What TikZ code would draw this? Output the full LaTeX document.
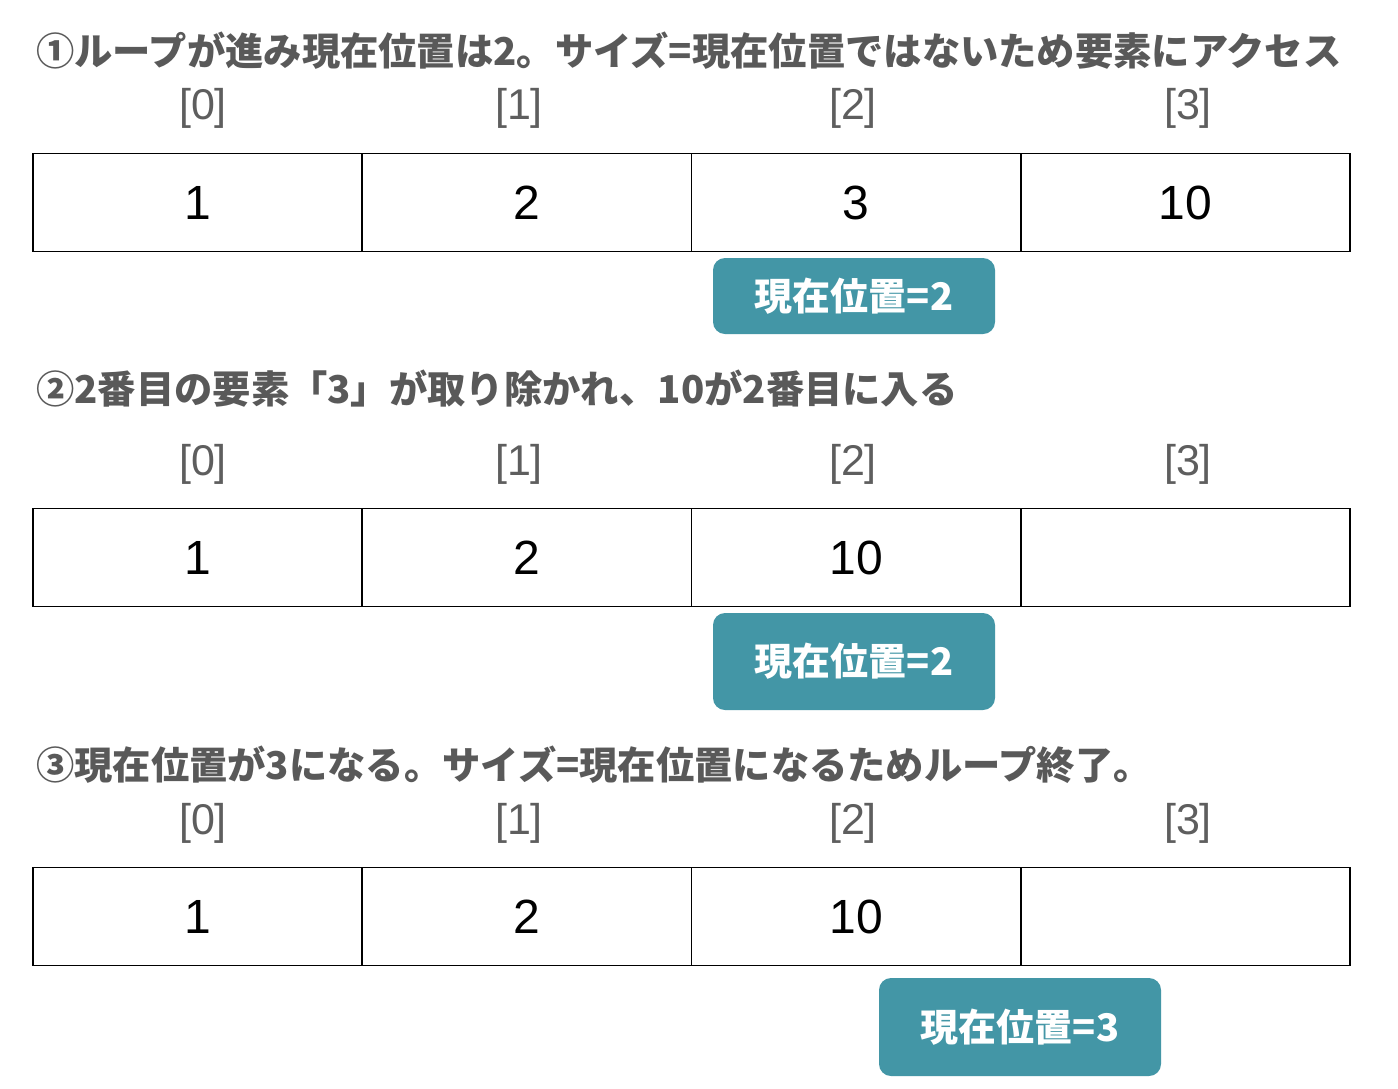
\documentclass[tikz,border=0pt]{standalone}
\usepackage{fontspec}
\setmainfont{Liberation Sans}
\newfontfamily\jpfont{Noto Sans CJK JP}
\definecolor{titlegray}{HTML}{595959}
\definecolor{idxgray}{HTML}{5E5E5E}
\definecolor{badgeteal}{HTML}{4396A6}
\begin{document}
\begin{tikzpicture}[x=1pt,y=-1pt,
  title/.style={anchor=west,inner sep=0,text=titlegray,font=\jpfont\bfseries\fontsize{38.3}{38.3}\selectfont},
  idx/.style={inner sep=0,text=idxgray,font=\fontsize{43}{43}\selectfont},
  cell/.style={draw,line width=1.5pt,minimum width=329pt,minimum height=98pt,inner sep=0,font=\fontsize{48}{48}\selectfont},
  badge/.style={fill=badgeteal,rounded corners=12pt,text=white,minimum width=282pt,inner sep=0,font=\jpfont\bfseries\fontsize{38}{38}\selectfont}]
\fill[white] (0,0) rectangle (1398,1088);
\useasboundingbox (0,0) rectangle (1398,1088);
% step 1
\node[title] (t1) at (36,51) {①ループが進み現在位置は2。サイズ=現在位置ではないため要素にアクセス};
\foreach \x [count=\i from 0] in {203,519,853,1188}
  \node[idx] (i1-\i) at (\x,108) {[\i]};
\foreach \v [count=\i from 0] in {1,2,3,10}
  \node[cell] (c1-\i) at (197.6+329.25*\i,202.5) {\v};
\node[badge,minimum height=76pt] (p1) at (854,296) {現在位置=2};
% step 2
\node[title] (t2) at (36,389) {②2番目の要素「3」が取り除かれ、10が2番目に入る};
\foreach \x [count=\i from 0] in {203,519,853,1188}
  \node[idx] (i2-\i) at (\x,464) {[\i]};
\foreach \v [count=\i from 0] in {1,2,10,{}}
  \node[cell] (c2-\i) at (197.6+329.25*\i,557.5) {\v};
\node[badge,minimum height=97pt] (p2) at (854,661.5) {現在位置=2};
% step 3
\node[title] (t3) at (36,765) {③現在位置が3になる。サイズ=現在位置になるためループ終了。};
\foreach \x [count=\i from 0] in {203,519,853,1188}
  \node[idx] (i3-\i) at (\x,823) {[\i]};
\foreach \v [count=\i from 0] in {1,2,10,{}}
  \node[cell] (c3-\i) at (197.6+329.25*\i,916.5) {\v};
\node[badge,minimum height=98pt] (p3) at (1020,1027) {現在位置=3};
\end{tikzpicture}
\end{document}
